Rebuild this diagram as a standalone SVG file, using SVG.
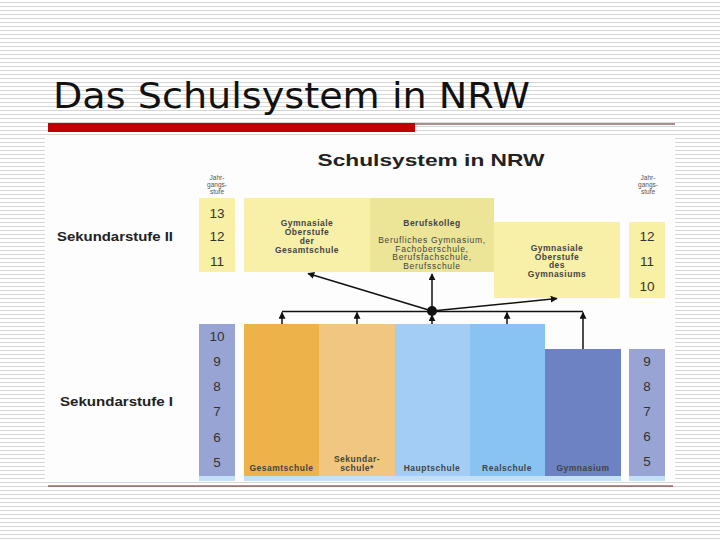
<svg xmlns="http://www.w3.org/2000/svg" width="720" height="540" viewBox="0 0 720 540">
<defs>
<pattern id="stripes" x="0" y="0" width="4" height="4" patternUnits="userSpaceOnUse">
<rect width="4" height="4" fill="#ffffff"/>
<rect y="2" width="4" height="1" fill="#d6d6d6"/>
</pattern>
<marker id="ah" viewBox="0 0 10 10" refX="9" refY="5" markerWidth="7" markerHeight="7" markerUnits="userSpaceOnUse" orient="auto">
<path d="M0,0 L10,5 L0,10 z" fill="#111"/>
</marker>
</defs>
<style>
.num{font-family:"Liberation Sans",Arial,sans-serif;font-size:13.5px;fill:#333;text-anchor:middle}
.lbl{font-family:"Liberation Sans",Arial,sans-serif;font-size:8.5px;font-weight:bold;fill:#444;text-anchor:middle;letter-spacing:0.5px}
.lbn{font-family:"Liberation Sans",Arial,sans-serif;font-size:8.5px;fill:#444;text-anchor:middle;letter-spacing:0.7px}
.tiny{font-family:"Liberation Sans",Arial,sans-serif;font-size:6.5px;fill:#555;text-anchor:middle}
.sek{font-family:"Liberation Sans",Arial,sans-serif;font-size:12.5px;font-weight:bold;fill:#222}
.con{stroke:#111;stroke-width:1.5;fill:none}
</style>
<rect width="720" height="540" fill="url(#stripes)"/>
<text x="53" y="108" font-family="DejaVu Sans,Verdana,sans-serif" font-size="36" fill="#111" textLength="477" lengthAdjust="spacingAndGlyphs">Das Schulsystem in NRW</text>
<rect x="48" y="123" width="367" height="9" fill="#c00000"/>
<line x1="415" y1="124" x2="675" y2="124" stroke="#5a1a1a" stroke-width="1"/>
<rect x="45" y="137" width="630" height="344" fill="#fdfdfd"/>
<line x1="48" y1="486" x2="673" y2="486" stroke="#6a1a1a" stroke-width="1.2"/>

<text x="431" y="166" font-family="Liberation Sans,Arial,sans-serif" font-size="17" font-weight="bold" fill="#222" text-anchor="middle" textLength="227" lengthAdjust="spacingAndGlyphs">Schulsystem in NRW</text>

<g id="jahr-left">
<text class="tiny" x="217" y="180">Jahr-</text>
<text class="tiny" x="217" y="187">gangs-</text>
<text class="tiny" x="217" y="194">stufe</text>
</g>
<g id="jahr-right">
<text class="tiny" x="648" y="180">Jahr-</text>
<text class="tiny" x="648" y="187">gangs-</text>
<text class="tiny" x="648" y="194">stufe</text>
</g>

<g id="sek2"><text class="sek" x="57" y="241" textLength="116" lengthAdjust="spacingAndGlyphs">Sekundarstufe II</text></g>
<g id="sek1"><text class="sek" x="60" y="406" textLength="113" lengthAdjust="spacingAndGlyphs">Sekundarstufe I</text></g>

<g id="col-left-upper">
<rect x="199" y="198" width="36" height="74" fill="#f8f0a4"/>
<text class="num" x="217" y="218">13</text>
<text class="num" x="217" y="241">12</text>
<text class="num" x="217" y="266">11</text>
</g>
<g id="col-right-upper">
<rect x="629" y="222" width="36" height="76" fill="#f8f0a4"/>
<text class="num" x="647" y="241">12</text>
<text class="num" x="647" y="266">11</text>
<text class="num" x="647" y="291">10</text>
</g>

<g id="gos-gesamt">
<rect x="244" y="198" width="126" height="74" fill="#f8f0a8"/>
<text class="lbl" x="307" y="226">Gymnasiale</text>
<text class="lbl" x="307" y="235">Oberstufe</text>
<text class="lbl" x="307" y="244">der</text>
<text class="lbl" x="307" y="253">Gesamtschule</text>
</g>
<g id="berufskolleg">
<rect x="370" y="198" width="124" height="74" fill="#ece497"/>
<text class="lbl" x="432" y="226">Berufskolleg</text>
<text class="lbn" x="432" y="243">Berufliches Gymnasium,</text>
<text class="lbn" x="432" y="251.5">Fachoberschule,</text>
<text class="lbn" x="432" y="260">Berufsfachschule,</text>
<text class="lbn" x="432" y="268.5">Berufsschule</text>
</g>
<g id="gos-gym">
<rect x="494" y="222" width="126" height="76" fill="#f8f0a8"/>
<text class="lbl" x="557" y="251">Gymnasiale</text>
<text class="lbl" x="557" y="259.5">Oberstufe</text>
<text class="lbl" x="557" y="268">des</text>
<text class="lbl" x="557" y="276.5">Gymnasiums</text>
</g>

<g id="col-left-lower">
<rect x="199" y="324" width="36" height="152" fill="#98a5d4"/>
<rect x="199" y="476" width="36" height="5" fill="#c4e0f7"/>
<text class="num" x="217" y="341">10</text>
<text class="num" x="217" y="366">9</text>
<text class="num" x="217" y="391">8</text>
<text class="num" x="217" y="416">7</text>
<text class="num" x="217" y="442">6</text>
<text class="num" x="217" y="467">5</text>
</g>
<g id="col-right-lower">
<rect x="629" y="349" width="36" height="127" fill="#98a5d4"/>
<rect x="629" y="476" width="36" height="5" fill="#c4e0f7"/>
<text class="num" x="647" y="366">9</text>
<text class="num" x="647" y="391">8</text>
<text class="num" x="647" y="416">7</text>
<text class="num" x="647" y="441">6</text>
<text class="num" x="647" y="466">5</text>
</g>

<rect x="244" y="476" width="377" height="5" fill="#c4e0f7"/>
<g id="gesamtschule">
<rect x="244" y="324" width="75" height="152" fill="#edb24a"/>
<text class="lbl" x="281.5" y="471">Gesamtschule</text>
</g>
<g id="sekundarschule">
<rect x="319" y="324" width="76" height="152" fill="#f0c680"/>
<text class="lbl" x="357" y="462">Sekundar-</text>
<text class="lbl" x="357" y="471">schule*</text>
</g>
<g id="hauptschule">
<rect x="395" y="324" width="75" height="152" fill="#a3cdf5"/>
<text class="lbl" x="432" y="471">Hauptschule</text>
</g>
<g id="realschule">
<rect x="470" y="324" width="75" height="152" fill="#88c3f3"/>
<text class="lbl" x="507" y="471">Realschule</text>
</g>
<g id="gymnasium">
<rect x="545" y="349" width="76" height="127" fill="#6c82c3"/>
<text class="lbl" x="583" y="471">Gymnasium</text>
</g>

<g id="connectors">
<line class="con" x1="282" y1="311.5" x2="583" y2="311.5"/>
<line class="con" x1="282" y1="324" x2="282" y2="312.5" marker-end="url(#ah)"/>
<line class="con" x1="357" y1="324" x2="357" y2="312.5" marker-end="url(#ah)"/>
<line class="con" x1="432" y1="324" x2="432" y2="315" marker-end="url(#ah)"/>
<line class="con" x1="507" y1="324" x2="507" y2="312.5" marker-end="url(#ah)"/>
<line class="con" x1="583" y1="349" x2="583" y2="312.5" marker-end="url(#ah)"/>
<line class="con" x1="432" y1="311" x2="308" y2="273.5" marker-end="url(#ah)"/>
<line class="con" x1="432" y1="311" x2="432" y2="274" marker-end="url(#ah)"/>
<line class="con" x1="432" y1="311" x2="557" y2="298.5" marker-end="url(#ah)"/>
<circle cx="432" cy="311" r="5" fill="#111"/>
</g>
</svg>
